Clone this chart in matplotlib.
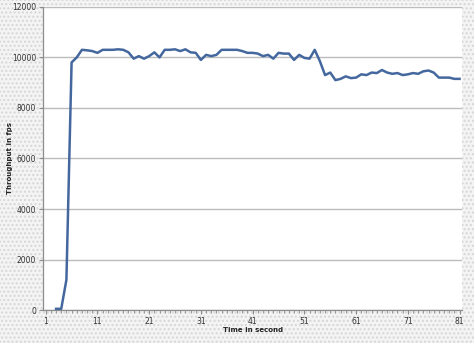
import matplotlib.pyplot as plt
from matplotlib.patches import Rectangle
from matplotlib.ticker import MultipleLocator

# Throughput per second (seconds 3..81)
seconds = list(range(3, 82))
throughput = [
    50, 50, 1200, 9800, 10000, 10300, 10280, 10250, 10180, 10300,
    10300, 10300, 10320, 10300, 10200, 9950, 10050, 9950, 10050, 10200,
    10000, 10300, 10300, 10320, 10250, 10320, 10200, 10180, 9900, 10100,
    10050, 10100, 10300, 10300, 10300, 10300, 10250, 10180, 10180, 10150,
    10050, 10100, 9950, 10180, 10150, 10150, 9900, 10100, 9980, 9950,
    10300, 9850, 9300, 9400, 9100, 9150, 9250, 9180, 9200, 9330,
    9300, 9400, 9380, 9500, 9400, 9350, 9380, 9300, 9330, 9380,
    9350, 9450, 9480, 9400, 9200, 9200, 9200, 9150, 9150,
]
x_ticks = list(range(1, 82, 10))
y_ticks = list(range(0, 12001, 2000))

fig = plt.figure(figsize=(4.74, 3.43), dpi=100)
fig.patch.set_facecolor('#f4f4f4')

# dotted chart-area background, kept behind the plot area
bg = fig.add_axes([0, 0, 1, 1], zorder=-1)
bg.axis('off')
bg.add_patch(Rectangle((0, 0), 1, 1, transform=bg.transAxes,
                       facecolor='none', edgecolor='#d6d6d6',
                       hatch='....', linewidth=0))

ax = fig.add_axes([0.091, 0.096, 0.884, 0.884])
ax.set_facecolor('white')
ax.plot(seconds, throughput, color='#44689e', linewidth=1.8, zorder=3)

ax.set_xlim(0.5, 81.5)
ax.set_ylim(0, 12000)
ax.set_xticks(x_ticks)
ax.set_xticklabels([str(t) for t in x_ticks])
ax.xaxis.set_minor_locator(MultipleLocator(1))
ax.set_yticks(y_ticks)
ax.set_yticklabels([str(t) for t in y_ticks])
ax.yaxis.grid(True, color='#bcbcbc', linewidth=1.0)
ax.set_axisbelow(True)

for side in ['top', 'right']:
    ax.spines[side].set_visible(False)
for side in ['left', 'bottom']:
    ax.spines[side].set_color('#8c8c8c')
    ax.spines[side].set_linewidth(0.9)

ax.tick_params(axis='both', which='major', labelsize=5.5, colors='#8c8c8c',
               labelcolor='#333333', length=3, width=0.8, pad=2)
ax.tick_params(axis='x', which='minor', length=2, width=0.6, colors='#8c8c8c')

ax.set_xlabel('Time in second', fontsize=5, fontweight='bold', color='#222222', labelpad=1)
ax.set_ylabel('Throughput in fps', fontsize=5, fontweight='bold', color='#222222')
ax.yaxis.set_label_coords(-0.072, 0.5)

fig.savefig('out.png', dpi=100, facecolor=fig.get_facecolor())
